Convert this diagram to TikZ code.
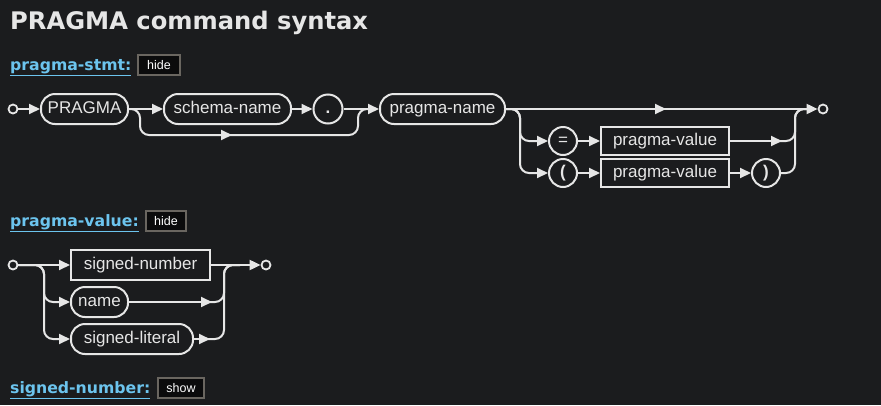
\documentclass[tikz,border=0pt]{standalone}
\usepackage{fontspec}
\setmainfont{Liberation Sans}
\newfontfamily\hfont{DejaVu Sans}
\usetikzlibrary{arrows.meta}
\definecolor{bg}{HTML}{1B1C1E}
\definecolor{fg}{HTML}{E6E6E6}
\definecolor{lk}{HTML}{6CC4EE}
\definecolor{btn}{HTML}{6A6660}
\begin{document}
\begin{tikzpicture}[x=1pt,y=-1pt,
  ln/.style={draw=fg,line width=2pt},
  arr/.style={ln,-{Triangle[length=11pt,width=10pt]}},
  rc/.style={rounded corners=9pt},
  base/.style={draw=fg,line width=2pt,fill=bg,text=fg,minimum height=30pt,inner sep=0pt,text height=12.5pt,text depth=3.5pt,font=\fontsize{17}{17}\selectfont},
  term/.style={base,rounded corners=14pt},
  nt/.style={base,minimum height=28pt},
  tc/.style={base,circle,minimum size=29pt},
  pt/.style={circle,draw=fg,line width=1.8pt,fill=bg,minimum size=9pt,inner sep=0pt},
  hdr/.style={anchor=base west,text=lk,inner sep=0pt,font=\hfont\bfseries\fontsize{15.7}{15.7}\selectfont},
  btn/.style={draw=btn,line width=1.5pt,fill=black!60!bg,text=white,minimum height=20pt,inner sep=0pt,font=\fontsize{12.5}{12.5}\selectfont}]
\fill[bg] (0,0) rectangle (881,405);
\useasboundingbox (0,0) rectangle (881,405);
\node[anchor=base west,text=fg,inner sep=0pt,font=\hfont\bfseries\fontsize{24.2}{24.2}\selectfont] (title) at (10,29) {PRAGMA command syntax};
\node[hdr] (h1) at (10,70) {\underline{pragma-stmt:}};
\node[btn,minimum width=42pt] (b1) at (159,65) {hide};
\node[hdr] (h2) at (10,226) {\underline{pragma-value:}};
\node[btn,minimum width=40pt] (b2) at (166,221) {hide};
\node[hdr] (h3) at (10,393) {\underline{signed-number:}};
\node[btn,minimum width=46pt] (b3) at (181,388) {show};
% diagram 1
\node[pt] (s1) at (13,109) {};
\node[term,minimum width=87pt] (pragma) at (84.5,109) {PRAGMA};
\node[term,minimum width=127pt] (schema) at (227.5,109) {schema-name};
\node[tc] (dot) at (328,109) {\textbf{.}};
\node[term,minimum width=125pt] (pname) at (442.5,109) {pragma-name};
\node[tc,minimum size=28pt] (eq) at (563,141) {=};
\node[nt,minimum width=128pt] (pv1) at (665,141) {pragma-value};
\node[tc,minimum size=28pt] (lp) at (563,173) {\textbf{(}};
\node[nt,minimum width=128pt] (pv2) at (665,173) {pragma-value};
\node[tc,minimum size=28pt] (rp) at (766,173) {\textbf{)}};
\node[pt] (e1) at (823,109) {};
\draw[arr] (s1) -- (pragma);
\draw[arr] (pragma) -- (schema);
\draw[arr] (schema) -- (dot);
\draw[arr] (dot) -- (pname);
\draw[ln,rc] (pragma.east) -- (140,109) -- (140,135) -- (358,135) -- (358,109) -- (368,109);
\draw[arr] (205,135) -- (232,135);
\draw[arr] (pname) -- (e1);
\draw[arr] (630,109) -- (666,109);
\draw[arr,rc] (pname.east) -- (520,109) -- (520,141) -- (eq);
\draw[arr,rc] (pname.east) -- (520,109) -- (520,173) -- (lp);
\draw[arr] (eq) -- (pv1);
\draw[arr] (pv1) -- (782,141);
\draw[ln,rc] (775,141) -- (795,141) -- (795,109) -- (810,109);
\draw[arr] (lp) -- (pv2);
\draw[arr] (pv2) -- (rp);
\draw[ln,rc] (rp.east) -- (795,173) -- (795,109) -- (810,109);
% diagram 2
\node[pt] (s2) at (13,265) {};
\node[nt,minimum width=139pt,minimum height=30pt] (sn) at (140.5,265) {signed-number};
\node[term,minimum width=57pt] (name) at (99.5,302) {name};
\node[term,minimum width=122pt] (sl) at (132,339) {signed-literal};
\node[pt] (e2) at (266,265) {};
\draw[arr] (s2) -- (sn);
\draw[arr,rc] (s2.east) -- (44,265) -- (44,302) -- (name);
\draw[arr,rc] (s2.east) -- (44,265) -- (44,339) -- (sl);
\draw[arr] (sn) -- (e2);
\draw[arr] (name) -- (212,302);
\draw[ln,rc] (205,302) -- (224,302) -- (224,265) -- (240,265);
\draw[arr] (sl) -- (210,339);
\draw[ln,rc] (205,339) -- (224,339) -- (224,265) -- (240,265);
\end{tikzpicture}
\end{document}
